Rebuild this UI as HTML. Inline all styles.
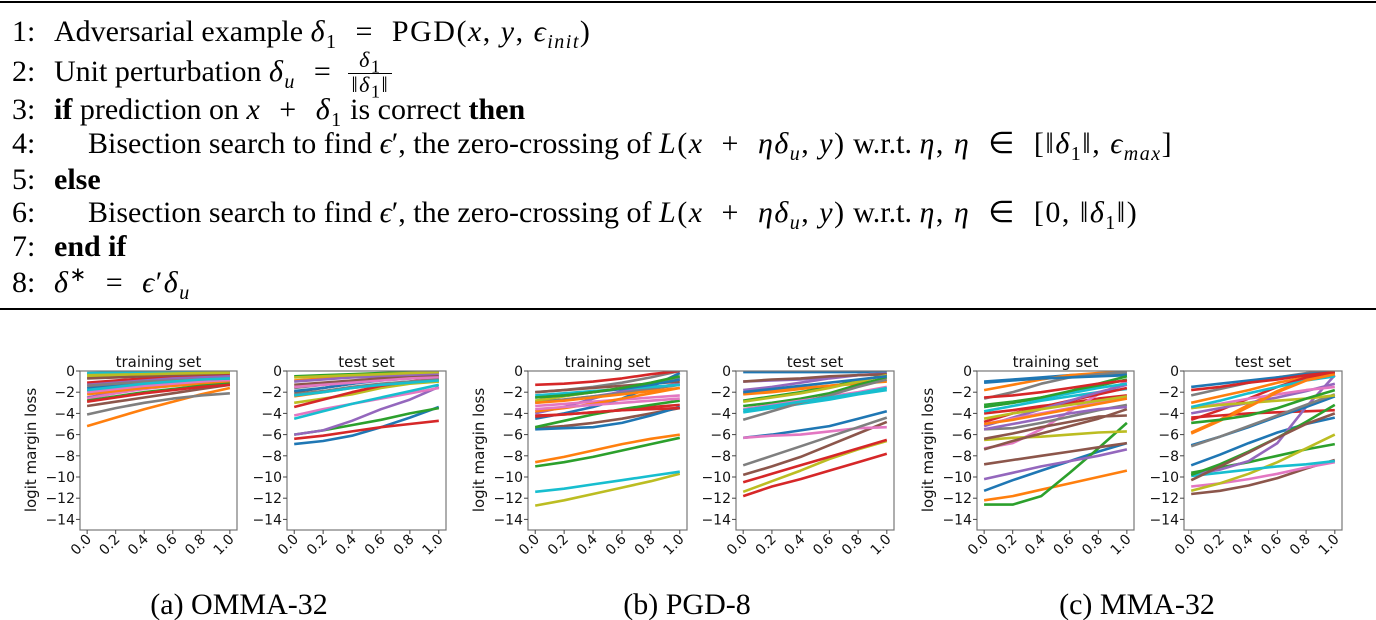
<!DOCTYPE html>
<html><head><meta charset="utf-8"><style>
body{margin:0;width:1376px;height:620px;background:#fff;overflow:hidden;position:relative;font-family:"Liberation Serif",serif;}
.rule{position:absolute;left:0;width:1376px;height:2px;background:#000;}
.ln{position:absolute;left:0;font-size:30px;line-height:30px;height:30px;white-space:nowrap;}
.n{position:absolute;left:12px;}
.c{position:absolute;left:54px;}
.c2{position:absolute;left:88px;}
i{font-style:italic}
.m{letter-spacing:1.5px}
.s{font-size:20px;line-height:0}
sub,sup{line-height:0}
svg{position:absolute;left:0;top:0}
.frac{position:relative;display:inline-block;width:58px;height:30px;vertical-align:top}
.frac span{position:absolute;left:0;width:58px;text-align:center;font-size:22px;line-height:22px}
</style></head><body>
<div class="rule" style="top:1px"></div>
<div class="ln" style="top:17px"><span class="n">1:</span><span class="c">Adversarial example <span class="m"><i>δ</i><sub class="s">1</sub>&nbsp; = &nbsp;PGD(<i>x</i>, <i>y</i>, <i>ϵ<sub class="s">init</sub></i>)</span></span></div>
<div class="ln" style="top:57px"><span class="n">2:</span><span class="c">Unit perturbation <span class="m"><i>δ<sub class="s">u</sub></i>&nbsp; = <span class="frac"><span style="top:-8px"><i>δ</i><sub>1</sub></span><span style="top:16px;border-top:1.5px solid #000;width:44px;left:7px">‖<i>δ</i><sub>1</sub>‖</span></span></span></span></div>
<div class="ln" style="top:95px"><span class="n">3:</span><span class="c"><b>if</b> prediction on <span class="m"><i>x</i>&nbsp; + &nbsp;<i>δ</i><sub class="s">1</sub></span> is correct <b>then</b></span></div>
<div class="ln" style="top:129px"><span class="n">4:</span><span class="c2">Bisection search to find <i>ϵ</i>′, the zero-crossing of <span class="m"><i>L</i>(<i>x</i>&nbsp; + &nbsp;<i>ηδ<sub class="s">u</sub></i>, <i>y</i>)</span> w.r.t. <span class="m"><i>η</i>, <i>η</i>&nbsp; ∈ &nbsp;[‖<i>δ</i><sub class="s">1</sub>‖, <i>ϵ<sub class="s">max</sub></i>]</span></span></div>
<div class="ln" style="top:165px"><span class="n">5:</span><span class="c"><b>else</b></span></div>
<div class="ln" style="top:198px"><span class="n">6:</span><span class="c2">Bisection search to find <i>ϵ</i>′, the zero-crossing of <span class="m"><i>L</i>(<i>x</i>&nbsp; + &nbsp;<i>ηδ<sub class="s">u</sub></i>, <i>y</i>)</span> w.r.t. <span class="m"><i>η</i>, <i>η</i>&nbsp; ∈ &nbsp;[0, ‖<i>δ</i><sub class="s">1</sub>‖)</span></span></div>
<div class="ln" style="top:232px"><span class="n">7:</span><span class="c"><b>end if</b></span></div>
<div class="ln" style="top:268px"><span class="n">8:</span><span class="c m"><i>δ</i><sup class="s">∗</sup>&nbsp; = &nbsp;<i>ϵ</i>′<i>δ<sub class="s">u</sub></i></span></div>
<div class="rule" style="top:308px"></div>
<svg id="chart" width="1376" height="620"></svg>
<script>
const xTicks=[0,0.2,0.4,0.6,0.8,1.0];
const xTickLabels=["0.0","0.2","0.4","0.6","0.8","1.0"];
const yTicks=[0,-2,-4,-6,-8,-10,-12,-14];
const panelTitles=["training set","test set"];
const captions=["(a) OMMA-32","(b) PGD-8","(c) MMA-32"];
const aTrain=[[-0.3,-0.2,-0.15,-0.1,-0.05,0],[-5.2,-4.4,-3.6,-2.9,-2.2,-1.6],[-1.9,-1.6,-1.4,-1.2,-1.0,-0.9],[-1.1,-0.9,-0.7,-0.5,-0.4,-0.3],[-2.5,-2.0,-1.5,-1.1,-0.8,-0.6],[-3.3,-2.9,-2.5,-2.1,-1.7,-1.3],[-2.6,-2.1,-1.7,-1.4,-1.2,-1.0],[-4.1,-3.5,-3.0,-2.6,-2.3,-2.1],[-0.6,-0.5,-0.4,-0.3,-0.2,-0.1],[-0.2,-0.15,-0.1,-0.05,0,0],[-1.6,-1.3,-1.0,-0.8,-0.6,-0.5],[-2.2,-1.9,-1.6,-1.4,-1.2,-1.1],[-2.8,-2.4,-2.0,-1.7,-1.4,-1.2],[-2.9,-2.5,-2.1,-1.8,-1.5,-1.3],[-1.3,-1.1,-0.9,-0.7,-0.6,-0.5],[-0.7,-0.6,-0.5,-0.4,-0.3,-0.2],[-2.0,-1.7,-1.4,-1.2,-1.0,-0.8],[-1.4,-1.2,-1.0,-0.9,-0.8,-0.7],[-0.4,-0.35,-0.3,-0.25,-0.2,-0.15],[-1.8,-1.5,-1.2,-1.0,-0.8,-0.7]];
const aTest=[[-6.9,-6.6,-6.1,-5.3,-4.4,-3.4],[-2.4,-2.0,-1.6,-1.3,-1.1,-1.0],[-6.0,-5.6,-5.1,-4.6,-4.0,-3.5],[-6.4,-6.1,-5.7,-5.3,-5.0,-4.7],[-6.0,-5.6,-4.7,-3.6,-2.7,-1.5],[-2.0,-1.6,-1.2,-0.8,-0.5,-0.2],[-4.2,-3.6,-3.1,-2.6,-2.1,-1.6],[-1.6,-1.3,-1.0,-0.7,-0.4,-0.1],[-3.0,-2.6,-2.2,-1.6,-1.2,-1.0],[-4.5,-3.8,-3.1,-2.5,-1.9,-1.3],[-1.9,-1.6,-1.2,-0.9,-0.7,-0.5],[-0.9,-0.7,-0.5,-0.3,-0.2,-0.1],[-0.5,-0.4,-0.3,-0.2,-0.1,0],[-3.4,-2.7,-2.0,-1.4,-1.0,-0.7],[-1.0,-0.8,-0.6,-0.5,-0.4,-0.3],[-1.3,-1.1,-0.9,-0.7,-0.6,-0.5],[-1.5,-1.3,-1.1,-0.9,-0.7,-0.6],[-2.2,-1.9,-1.5,-1.2,-1.0,-0.8],[-0.6,-0.5,-0.4,-0.3,-0.2,-0.1],[-2.3,-2.0,-1.6,-1.3,-1.1,-0.9]];
const bTrain=[[-4.5,-4.0,-3.4,-2.6,-1.5,-0.2],[-8.6,-8.1,-7.5,-6.9,-6.4,-6.0],[-9.0,-8.6,-8.1,-7.5,-6.9,-6.3],[-4.2,-4.1,-3.9,-3.7,-3.4,-3.2],[-4.0,-3.4,-2.6,-1.9,-1.2,-0.6],[-5.4,-5.2,-4.9,-4.5,-4.0,-3.5],[-3.3,-3.1,-2.9,-2.7,-2.5,-2.3],[-2.0,-1.8,-1.5,-1.1,-0.6,0],[-12.7,-12.2,-11.6,-11.0,-10.4,-9.7],[-11.4,-11.1,-10.7,-10.3,-9.9,-9.5],[-5.5,-5.4,-5.3,-4.9,-4.2,-3.4],[-3.8,-3.5,-3.1,-2.6,-2.1,-1.6],[-5.3,-4.7,-4.1,-3.6,-3.2,-2.8],[-1.3,-1.2,-1.0,-0.7,-0.3,0],[-3.0,-2.7,-2.4,-2.0,-1.6,-1.2],[-2.0,-1.8,-1.6,-1.4,-1.2,-1.0],[-3.6,-3.4,-3.2,-3.0,-2.8,-2.6],[-2.9,-2.7,-2.4,-2.1,-1.7,-1.3],[-2.8,-2.4,-2.0,-1.6,-1.2,-0.8],[-2.3,-2.1,-1.9,-1.7,-1.5,-1.3],[-2.5,-2.3,-2.0,-1.7,-1.3,-0.8],[-3.0,-2.8,-2.5,-2.2,-1.9,-1.6],[-2.5,-2.3,-2.0,-1.6,-1.1,-0.5],[-4.3,-4.1,-3.9,-3.7,-3.6,-3.5]];
const bTest=[[-6.3,-6.0,-5.6,-5.2,-4.5,-3.8],[-2.2,-2.0,-1.7,-1.4,-1.1,-0.9],[-2.8,-2.4,-2.0,-1.5,-0.9,-0.4],[-11.8,-10.9,-10.2,-9.4,-8.6,-7.8],[-1.8,-1.5,-1.1,-0.7,-0.4,-0.2],[-9.8,-9.0,-8.1,-7.0,-5.9,-4.8],[-6.3,-6.1,-6.0,-5.7,-5.4,-5.3],[-8.9,-8.0,-7.1,-6.2,-5.3,-4.4],[-11.4,-10.4,-9.4,-8.3,-7.4,-6.6],[-3.9,-3.5,-3.1,-2.7,-2.2,-1.8],[-0.1,-0.1,-0.1,-0.1,-0.1,0],[-2.1,-1.9,-1.6,-1.4,-1.2,-1.0],[-3.3,-3.0,-2.6,-2.1,-1.3,-0.6],[-10.5,-9.7,-8.9,-8.1,-7.3,-6.5],[-1.0,-0.9,-0.8,-0.6,-0.4,-0.3],[-1.0,-0.8,-0.7,-0.5,-0.4,-0.3],[-3.6,-3.2,-2.8,-2.4,-2.0,-1.5],[-4.6,-3.8,-3.0,-2.3,-1.5,-0.8],[-2.9,-2.5,-2.1,-1.6,-1.0,-0.4],[-3.7,-3.3,-2.9,-2.5,-2.1,-1.6],[-2.0,-1.7,-1.4,-1.1,-0.8,-0.5]];
const cTrain=[[-11.3,-10.3,-9.4,-8.5,-7.6,-6.8],[-12.2,-11.8,-11.2,-10.6,-10.0,-9.4],[-12.6,-12.6,-11.8,-9.6,-7.3,-4.9],[-4.0,-3.7,-3.3,-3.0,-2.6,-2.3],[-10.2,-9.6,-9.0,-8.5,-8.0,-7.4],[-8.8,-8.4,-8.0,-7.6,-7.2,-6.8],[-7.3,-6.8,-5.5,-3.8,-2.2,-1.0],[-5.5,-5.4,-4.9,-4.3,-3.7,-3.2],[-6.5,-6.3,-6.2,-6.0,-5.8,-5.7],[-3.8,-3.3,-2.8,-2.4,-2.0,-1.7],[-1.0,-0.8,-0.6,-0.4,-0.3,-0.3],[-1.8,-1.3,-0.8,-0.4,-0.2,-0.1],[-3.2,-2.9,-2.5,-2.0,-1.4,-0.8],[-4.8,-4.0,-3.4,-2.8,-2.2,-1.6],[-5.2,-4.4,-3.6,-2.8,-2.0,-1.3],[-7.4,-6.6,-5.9,-5.2,-4.5,-3.6],[-5.0,-4.5,-4.0,-3.5,-3.0,-2.5],[-2.6,-2.0,-1.2,-0.6,-0.3,-0.1],[-4.5,-4.0,-3.6,-3.2,-2.8,-2.4],[-3.4,-3.0,-2.6,-2.1,-1.6,-1.2],[-1.1,-0.9,-0.7,-0.6,-0.5,-0.4],[-5.0,-4.6,-4.1,-3.6,-3.1,-2.6],[-3.4,-3.0,-2.5,-1.9,-1.2,-0.5],[-2.5,-2.3,-2.0,-1.6,-1.2,-0.9],[-5.5,-5.0,-4.5,-4.0,-3.6,-3.4],[-6.4,-5.9,-5.3,-4.8,-4.3,-4.2]];
const cTest=[[-8.9,-7.9,-6.8,-5.8,-5.0,-4.4],[-5.8,-4.6,-3.2,-1.9,-0.8,-0.2],[-9.6,-9.1,-8.6,-8.0,-7.4,-6.9],[-4.4,-4.2,-4.0,-3.9,-3.8,-3.7],[-9.8,-9.3,-8.5,-6.8,-3.4,-0.4],[-11.6,-11.3,-10.8,-10.1,-9.2,-8.4],[-10.9,-10.6,-10.2,-9.7,-9.1,-8.6],[-2.3,-1.7,-1.1,-0.6,-0.2,0],[-11.3,-10.6,-9.7,-8.6,-7.3,-6.0],[-9.9,-9.6,-9.3,-9.0,-8.8,-8.5],[-7.0,-6.2,-5.3,-4.3,-3.4,-2.4],[-3.0,-2.4,-1.8,-1.1,-0.6,-0.2],[-9.8,-8.8,-7.6,-6.3,-4.8,-3.2],[-4.6,-3.7,-2.6,-1.5,-0.6,-0.1],[-4.0,-3.5,-3.0,-2.5,-1.9,-1.2],[-10.3,-9.0,-7.7,-6.3,-5.0,-4.0],[-3.5,-3.1,-2.6,-2.2,-1.8,-1.5],[-7.1,-6.2,-5.2,-4.2,-3.2,-2.2],[-3.5,-3.2,-3.0,-2.8,-2.6,-2.3],[-3.4,-2.8,-2.1,-1.5,-0.9,-0.5],[-1.5,-1.2,-0.9,-0.6,-0.3,-0.1],[-5.9,-4.7,-3.4,-2.0,-0.9,-0.3],[-4.9,-4.6,-4.2,-3.5,-2.6,-1.8],[-1.8,-1.5,-1.1,-0.8,-0.4,-0.1]];
const colors=["#1f77b4","#ff7f0e","#2ca02c","#d62728","#9467bd","#8c564b","#e377c2","#7f7f7f","#bcbd22","#17becf"];
const panels=[{l:80,r:237,d:aTrain,t:0},{l:287,r:446,d:aTest,t:1},{l:528,r:687,d:bTrain,t:0},{l:736,r:894,d:bTest,t:1},{l:977,r:1134,d:cTrain,t:0},{l:1184,r:1342,d:cTest,t:1}];
const capX=[239,687,1137];
const TOP=371,BOT=530,YMIN=-15,YMAX=0,XMIN=-0.05,XMAX=1.05;
const NS="http://www.w3.org/2000/svg";
const svg=document.getElementById('chart');
function mk(tag,attrs,parent){const e=document.createElementNS(NS,tag);for(const k in attrs)e.setAttribute(k,attrs[k]);(parent||svg).appendChild(e);return e;}
panels.forEach((p,pi)=>{
  const sx=v=>p.l+(v-XMIN)/(XMAX-XMIN)*(p.r-p.l);
  const sy=v=>TOP+(YMAX-v)/(YMAX-YMIN)*(BOT-TOP);
  const g=mk('g',{});
  
  
  const cp=mk('clipPath',{id:'cp'+pi},g);
  mk('rect',{x:p.l,y:TOP,width:p.r-p.l,height:BOT-TOP},cp);
  const lg=mk('g',{'clip-path':'url(#cp'+pi+')'},g);
  p.d.forEach((s,si)=>{
    const pts=s.map((v,i)=>sx(xTicks[i]).toFixed(1)+','+sy(v).toFixed(1)).join(' ');
    const pl=mk('polyline',{points:pts,fill:'none',stroke:colors[si%10],'stroke-width':2.6,'stroke-linejoin':'round'},lg);
    
    
  });
  const fr=mk('rect',{x:p.l,y:TOP,width:p.r-p.l,height:BOT-TOP,fill:'none',stroke:'#777','stroke-width':1.2},g);
  
  
  yTicks.forEach(v=>{
    const y=sy(v);
    mk('line',{x1:p.l-4,x2:p.l,y1:y,y2:y,stroke:'#444'},g);
    const t=mk('text',{x:p.l-5,y:y+5,'text-anchor':'end','font-size':14,'font-family':'DejaVu Sans, sans-serif',fill:'#111'},g);
    t.textContent=v<0?'\u2212'+(-v):String(v);
    
    
  });
  xTicks.forEach((v,i)=>{
    const x=sx(v);
    mk('line',{x1:x,x2:x,y1:BOT,y2:BOT+4,stroke:'#444'},g);
    const t=mk('text',{x:x+5,y:BOT+10,'text-anchor':'end','font-size':14,'font-family':'DejaVu Sans, sans-serif',fill:'#111',transform:'rotate(-45 '+(x+5)+' '+(BOT+10)+')'},g);
    t.textContent=xTickLabels[i];
    
    
  });
  const tt=mk('text',{x:(p.l+p.r)/2,y:367,'text-anchor':'middle','font-size':15,'font-family':'DejaVu Sans, sans-serif',fill:'#111'},g);
  tt.textContent=panelTitles[p.t];
  
  
  if(p.t===0){
    const yl=mk('text',{x:0,y:0,'text-anchor':'middle','font-size':15,'font-family':'DejaVu Sans, sans-serif',fill:'#111',transform:'translate('+(p.l-44)+',450) rotate(-90)'},g);
    yl.textContent='logit margin loss';
    
    
  }
});
captions.forEach((c,i)=>{
  const t=mk('text',{x:capX[i],y:614,'text-anchor':'middle','font-size':30,'font-family':'Liberation Serif, serif',fill:'#000'});
  t.textContent=c;
  
  
});
</script>
</body></html>
